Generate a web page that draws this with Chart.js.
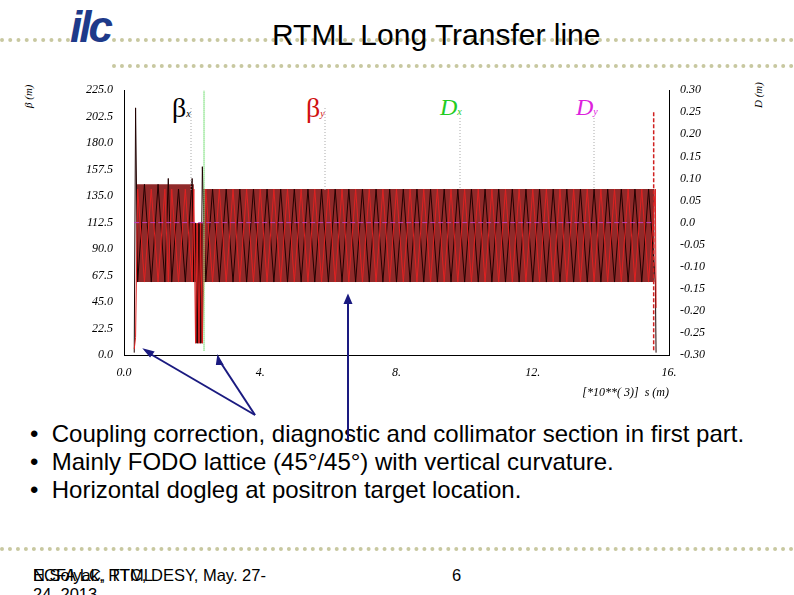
<!DOCTYPE html>
<html><head><meta charset="utf-8">
<script src="https://cdn.jsdelivr.net/npm/chart.js@4.4.0/dist/chart.umd.min.js"></script>
<style>
body{margin:0;width:794px;height:595px;position:relative;background:#fff;font-family:"Liberation Sans",Arial,sans-serif;overflow:hidden}
.abs{position:absolute}
.dots{position:absolute;left:0;width:794px;height:0;border-top:4px dotted #c8c8a0}
</style></head><body>
<div class="dots" style="top:38px;left:0;width:70px"></div>
<div class="dots" style="top:38px;left:112px;width:682px"></div>
<div class="dots" style="top:64px;left:112px;width:682px"></div>
<div class="dots" style="top:547px"></div>
<div class="abs" style="left:70px;top:2px;font:bold 44px 'Liberation Sans';color:#1e3a8a;letter-spacing:-3px;font-style:italic">ilc</div>
<div class="abs" style="left:272px;top:18px;font-size:30px">RTML Long Transfer line</div>
<div class="abs" style="left:22px;top:108px;transform:rotate(-90deg);transform-origin:left top;font:italic 11px 'Liberation Serif'">β (m)</div>
<div class="abs" style="left:752px;top:108px;transform:rotate(-90deg);transform-origin:left top;font:italic 11px 'Liberation Serif'">D (m)</div>
<div class="abs" style="left:172px;top:92px;font:28px 'Liberation Serif'">β<span style="font-size:10px;font-style:italic">x</span></div>
<div class="abs" style="left:306px;top:92px;font:28px 'Liberation Serif';color:#d01010">β<span style="font-size:10px;font-style:italic">y</span></div>
<div class="abs" style="left:440px;top:94px;font:italic 24px 'Liberation Serif';color:#22cc22">D<span style="font-size:10px">x</span></div>
<div class="abs" style="left:576px;top:94px;font:italic 24px 'Liberation Serif';color:#dd22dd">D<span style="font-size:10px">y</span></div>
<div class="abs" style="left:30px;top:420px;font-size:24px;line-height:28px;white-space:nowrap">
• &nbsp;Coupling correction, diagnostic and collimator section in first part.<br>
• &nbsp;Mainly FODO lattice (45°/45°) with vertical curvature.<br>
• &nbsp;Horizontal dogleg at positron target location.</div>
<div class="abs" style="left:33px;top:566px;font-size:16.5px">N.Solyak, RTML</div>
<div class="abs" style="left:33px;top:566px;font-size:16.5px">ECFA LC, TTC, DESY, May. 27-<br>24, 2013</div>
<div class="abs" style="left:452px;top:566px;font-size:16.5px">6</div>
<div class="abs" style="left:0;top:80px;width:794px;height:320px"><canvas id="c" width="794" height="320"></canvas></div>
<svg class="abs" style="left:0;top:0" width="794" height="595">
<g stroke="#aaa" stroke-dasharray="1,2" stroke-width="1">
<line x1="191" y1="108" x2="191" y2="190"/><line x1="325" y1="108" x2="325" y2="190"/>
<line x1="460" y1="118" x2="460" y2="190"/><line x1="594" y1="118" x2="594" y2="190"/></g>
<g stroke="#1a1a80" stroke-width="2" fill="#1a1a80">
<line x1="255" y1="415" x2="147" y2="352"/><line x1="255" y1="415" x2="219" y2="360"/>
<line x1="348" y1="440" x2="348" y2="300"/>
<polygon points="145,350 153,352 150,356"/><polygon points="218,357 222,364 217,364"/><polygon points="348,296 345,303 351,303"/></g>
</svg>
<script>
const sPos=[0.30,0.34,0.40,0.60,0.80,1.00,1.20,1.30,1.40,1.60,1.80,2.00,2.05,2.10,2.15,2.20,2.25,2.30,2.40,
2.6,2.8,3.0,3.2,3.4,3.6,3.8,4.0,4.2,4.4,4.6,4.8,5.0,5.2,5.4,5.6,5.8,6.0,6.2,6.4,6.6,6.8,7.0,7.2,7.4,7.6,7.8,8.0,8.2,8.4,8.6,8.8,9.0,9.2,9.4,9.6,9.8,10.0,10.2,10.4,10.6,10.8,11.0,11.2,11.4,11.6,11.8,12.0,12.2,12.4,12.6,12.8,13.0,13.2,13.4,13.6,13.8,14.0,14.2,14.4,14.6,14.8,15.0,15.2,15.4,15.6,15.62];
const betaX=[2,210,62,145,62,145,62,150,62,141,62,150,62,112,10,112,10,160,62,
141,62,141,62,141,62,141,62,141,62,141,62,141,62,141,62,141,62,141,62,141,62,141,62,141,62,141,62,141,62,141,62,141,62,141,62,141,62,141,62,141,62,141,62,141,62,141,62,141,62,141,62,141,62,141,62,141,62,141,62,141,62,141,62,141,62,2];
const betaY=[5,15,141,62,141,62,141,62,141,62,141,62,141,10,112,10,112,10,141,
62,141,62,141,62,141,62,141,62,141,62,141,62,141,62,141,62,141,62,141,62,141,62,141,62,141,62,141,62,141,62,141,62,141,62,141,62,141,62,141,62,141,62,141,62,141,62,141,62,141,62,141,62,141,62,141,62,141,62,141,62,141,62,141,62,141,40];
const sBand=[0.36,2.05,2.05,2.1,2.1,2.32,2.32,15.58];
const bandHi=[145,145,112,112,112,112,141,141];
const bandLo=[62,62,62,62,10,10,62,62];
const sDy=[0.3,15.55], Dy=[0,0];
const sDx=[2.35,2.35], Dx=[-0.29,0.30];
const sDend=[15.55,15.55], Dend=[0.25,-0.29];
const leftTicks=['0.0','22.5','45.0','67.5','90.0','112.5','135.0','157.5','180.0','202.5','225.0'];
const rightTicks=['-0.30','-0.25','-0.20','-0.15','-0.10','-0.05','0.0','0.05','0.10','0.15','0.20','0.25','0.30'];
const xTicks={0:'0.0',4:'4.',8:'8.',12:'12.',16:'16.'};
const xy=(a,b)=>a.map((v,i)=>({x:v,y:b[i]}));
const tf={family:'Liberation Serif',size:12,style:'italic'};
new Chart(document.getElementById('c'),{type:'line',
data:{datasets:[
{data:xy(sBand,bandHi),yAxisID:'y',borderWidth:0,pointRadius:0,fill:'+1',backgroundColor:'rgba(125,5,5,0.85)',order:5},
{data:xy(sBand,bandLo),yAxisID:'y',borderWidth:0,pointRadius:0,fill:false,order:5},
{data:xy(sPos,betaX),yAxisID:'y',borderColor:'#200000',borderWidth:1,pointRadius:0,fill:false,order:2},
{data:xy(sPos,betaY),yAxisID:'y',borderColor:'#e02020',borderWidth:1,pointRadius:0,fill:false,order:1},
{data:xy(sDy,Dy),yAxisID:'y2',borderColor:'#c040c0',borderDash:[5,3],borderWidth:1,pointRadius:0,order:0},
{data:xy(sDx,Dx),yAxisID:'y2',borderColor:'#80e080',borderDash:[1,1],borderWidth:2,pointRadius:0,order:0},
{data:xy(sDend,Dend),yAxisID:'y2',borderColor:'#d02020',borderDash:[4,2],borderWidth:1.5,pointRadius:0,order:0}]},
options:{animation:false,responsive:false,devicePixelRatio:1,layout:{padding:{top:10,left:0,right:0,bottom:0}},
plugins:{legend:{display:false},tooltip:{enabled:false}},
scales:{
x:{type:'linear',min:0,max:16,afterFit:s=>{s.height=45},grid:{display:false},border:{color:'#000'},
 afterBuildTicks:s=>{s.ticks=Object.keys(xTicks).map(v=>({value:+v}))},
 ticks:{callback:v=>xTicks[v],color:'#000',font:tf,maxRotation:0},
 title:{display:true,text:'[*10**( 3)]  s (m)',align:'end',font:tf,color:'#000',padding:0}},
y:{position:'left',min:0,max:225,afterFit:s=>{s.width=124},grid:{display:false},border:{color:'#000'},
 afterBuildTicks:s=>{s.ticks=leftTicks.map(t=>({value:+t}))},
 ticks:{callback:(v,i)=>leftTicks[i],color:'#000',font:tf}},
y2:{position:'right',min:-0.3,max:0.3,afterFit:s=>{s.width=125},grid:{display:false},border:{color:'#000'},
 afterBuildTicks:s=>{s.ticks=rightTicks.map(t=>({value:+t}))},
 ticks:{callback:(v,i)=>rightTicks[i],color:'#000',font:tf}}}}});
</script></body></html>
